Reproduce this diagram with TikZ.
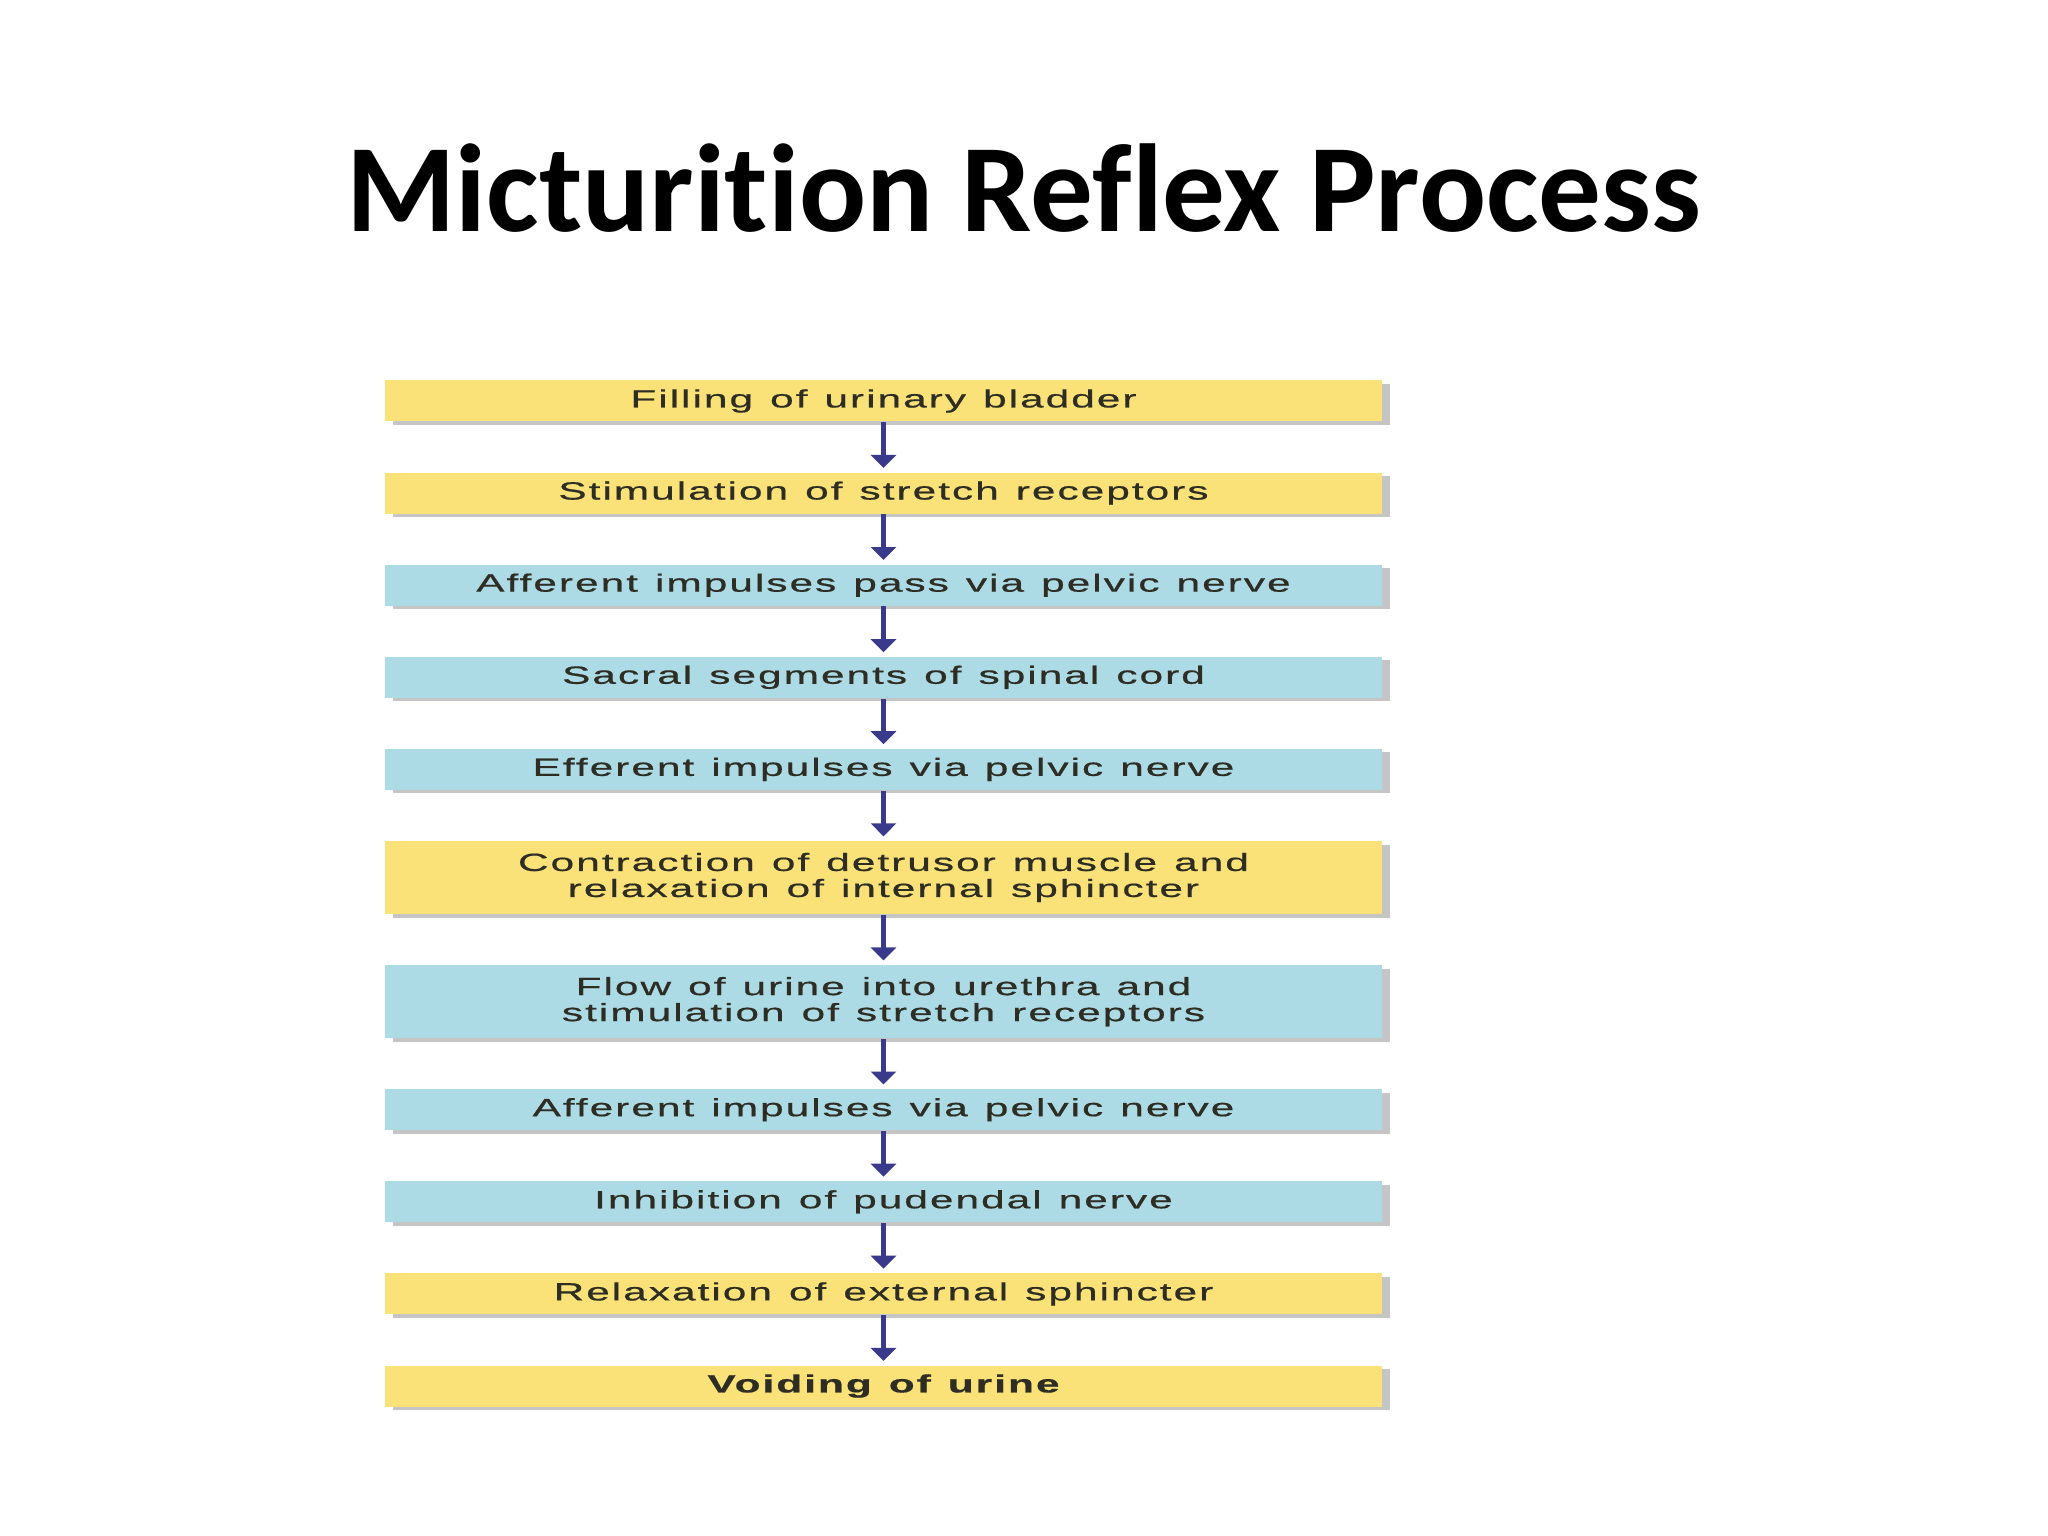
\documentclass[tikz,border=0pt]{standalone}
\usepackage{fontspec}
\setmainfont{Liberation Sans}
\newfontfamily\titlefont[Ligatures=NoCommon]{Carlito}
\newfontfamily\boxfont[FakeStretch=1.7,LetterSpace=8,FakeBold=0.6]{Liberation Sans}
\usetikzlibrary{positioning,arrows.meta,shadows}

\definecolor{stepyellow}{RGB}{250,226,120}
\definecolor{stepblue}{RGB}{172,219,230}
\definecolor{arrowblue}{RGB}{58,58,140}
\definecolor{steptext}{RGB}{45,45,35}

\begin{document}
\begin{tikzpicture}[
    stepbox/.style={rectangle, minimum width=9.97cm, minimum height=0.41cm, inner sep=0pt,
        text width=9.97cm, align=center, text=steptext,
        font=\boxfont\fontsize{7.1pt}{7.4pt}\selectfont,
        execute at begin node={\spaceskip=0.17cm\relax},
        drop shadow={shadow xshift=0.08cm, shadow yshift=-0.035cm, fill=black!45, opacity=0.5}},
    yellowbox/.style={stepbox, fill=stepyellow},
    bluebox/.style={stepbox, fill=stepblue},
    tallbox/.style={minimum height=0.73cm},
    flow/.style={-{Triangle[width=0.25cm,length=0.13cm]}, line width=0.05cm, arrowblue, shorten >=0.04cm},
    node distance=0.497cm
]
\useasboundingbox (0,0) rectangle (20.48,-15.36);

% title
\node[anchor=base, font=\titlefont\bfseries\fontsize{35.6pt}{40pt}\selectfont] (title) at (10.24,-2.32) {Micturition Reflex Process};

% steps
\node[yellowbox] (s1) at (8.835,-4.01) {Filling of urinary bladder};
\node[yellowbox, below=of s1] (s2) {Stimulation of stretch receptors};
\node[bluebox, below=of s2] (s3) {Afferent impulses pass via pelvic nerve};
\node[bluebox, below=of s3] (s4) {Sacral segments of spinal cord};
\node[bluebox, below=of s4] (s5) {Efferent impulses via pelvic nerve};
\node[yellowbox, tallbox, below=of s5] (s6) {Contraction of detrusor muscle and\\relaxation of internal sphincter};
\node[bluebox, tallbox, below=of s6] (s7) {Flow of urine into urethra and\\stimulation of stretch receptors};
\node[bluebox, below=of s7] (s8) {Afferent impulses via pelvic nerve};
\node[bluebox, below=of s8] (s9) {Inhibition of pudendal nerve};
\node[yellowbox, below=of s9] (s10) {Relaxation of external sphincter};
\node[yellowbox, below=of s10] (s11) {\bfseries Voiding of urine};

% arrows
\foreach \i in {1,...,10} {
    \pgfmathtruncatemacro{\j}{\i+1}
    \draw[flow] (s\i.south) -- (s\j.north);
}
\end{tikzpicture}
\end{document}
